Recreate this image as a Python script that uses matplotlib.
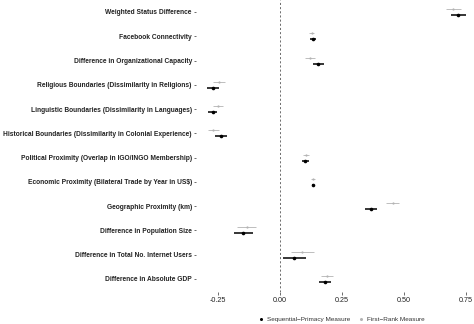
import numpy as np
import matplotlib
matplotlib.use("Agg")
import matplotlib.pyplot as plt
from matplotlib.lines import Line2D

plt.rcParams['font.family'] = ['Liberation Sans', 'DejaVu Sans']

# predictors, top to bottom
labels = [
    "Weighted Status Difference",
    "Facebook Connectivity",
    "Difference in Organizational Capacity",
    "Religious Boundaries (Dissimilarity in Religions)",
    "Linguistic Boundaries (Dissimilarity in Languages)",
    "Historical Boundaries (Dissimilarity in Colonial Experience)",
    "Political Proximity (Overlap in IGO/INGO Membership)",
    "Economic Proximity (Bilateral Trade by Year in US$)",
    "Geographic Proximity (km)",
    "Difference in Population Size",
    "Difference in Total No. Internet Users",
    "Difference in Absolute GDP",
]

# Sequential-Primacy measure: estimate, lower, upper
seq_est = [0.719, 0.134, 0.153, -0.269, -0.272, -0.238, 0.102, 0.132, 0.366, -0.148, 0.056, 0.180]
seq_lo = [0.688, 0.122, 0.132, -0.293, -0.290, -0.263, 0.087, 0.127, 0.341, -0.185, 0.011, 0.155]
seq_hi = [0.750, 0.146, 0.177, -0.245, -0.253, -0.215, 0.117, 0.137, 0.390, -0.108, 0.105, 0.207]

# First-Rank measure: estimate, lower, upper
fr_est = [0.699, 0.128, 0.121, -0.246, -0.251, -0.269, 0.105, 0.132, 0.454, -0.134, 0.089, 0.188]
fr_lo = [0.669, 0.117, 0.102, -0.269, -0.269, -0.290, 0.091, 0.124, 0.427, -0.175, 0.043, 0.164]
fr_hi = [0.729, 0.138, 0.141, -0.221, -0.231, -0.245, 0.118, 0.140, 0.481, -0.097, 0.137, 0.212]

xticks = [-0.25, 0.0, 0.25, 0.5, 0.75]
xticklabels = ["-0.25", "0.00", "0.25", "0.50", "0.75"]

W, H = 474, 324
fig = plt.figure(figsize=(W / 100, H / 100), dpi=100)
ax = fig.add_axes([196 / W, 1 - 292 / H, (W - 196) / W, 292 / H])

y = np.arange(len(labels))
dodge = 0.124
seq_col = "black"
fr_col = "#b3b3b3"

ax.axvline(0, color="#555555", lw=0.6, ls=(0, (2.5, 2.5)), zorder=0)

ax.hlines(y - dodge, fr_lo, fr_hi, color=fr_col, lw=0.6)
ax.plot(fr_est, y - dodge, "o", color=fr_col, ms=1.6, mew=0)
ax.hlines(y + dodge, seq_lo, seq_hi, color=seq_col, lw=1.1)
ax.plot(seq_est, y + dodge, "o", color=seq_col, ms=2.6, mew=0)

ax.set_xlim(-0.339, 0.782)
ax.set_ylim(11.54, -0.494)
ax.set_xticks(xticks)
ax.set_xticklabels(xticklabels)
ax.set_yticks(y)
ax.set_yticklabels(labels, fontweight="bold")

ax.tick_params(axis="y", length=1.8, width=0.5, color="#333333", labelsize=4.8,
               labelcolor="#222222", pad=1.2)
ax.tick_params(axis="x", length=1.8, width=0.5, color="#333333", labelsize=5.2,
               labelcolor="#222222", pad=1.5)
for s in ax.spines.values():
    s.set_visible(False)

handles = [
    Line2D([], [], marker="o", ls="", color=seq_col, ms=2.2, mew=0, label="Sequential\u2212Primacy Measure"),
    Line2D([], [], marker="o", ls="", color=fr_col, ms=2.2, mew=0, label="First\u2212Rank Measure"),
]
fig.legend(handles=handles, loc="center", bbox_to_anchor=(341 / W, 1 - 319 / H), ncol=2,
           frameon=False, fontsize=4.6, handletextpad=0.4, columnspacing=1.2,
           handlelength=1.0, labelcolor="#333333")

fig.savefig("out.png", dpi=100)
